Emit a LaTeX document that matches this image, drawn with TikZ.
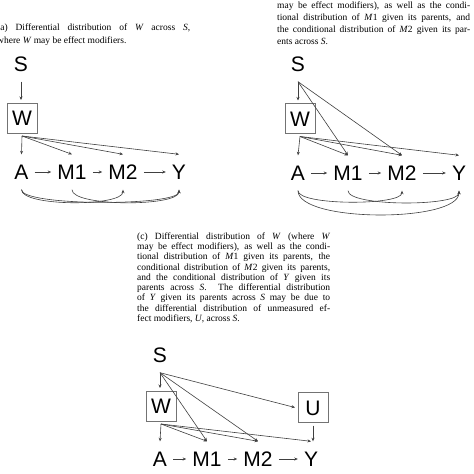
\documentclass[tikz,border=0pt]{standalone}
\usepackage{fontspec}
\setmainfont{Liberation Serif}
\newfontfamily\lbfont{Liberation Sans}
\usetikzlibrary{arrows.meta}
\newlength\capw
\setlength\capw{193pt}
\newcommand\jl[1]{\hbox to \capw{#1}}
\begin{document}
\begin{tikzpicture}[x=1pt,y=-1pt,
  lbl/.style={font=\lbfont\fontsize{21}{21}\selectfont, text height=15pt, text depth=0pt, inner xsep=6pt, inner ysep=10pt},
  boxn/.style={draw=black!55, line width=0.7pt, font=\lbfont\fontsize{21}{21}\selectfont, minimum width=30pt, minimum height=30pt, inner sep=0pt, text height=15pt, text depth=0pt, outer sep=3pt},
  arr/.style={draw=black!75, line width=0.6pt, -{Stealth[length=3.5pt,width=3pt]}},
  capt/.style={align=left, inner sep=0pt, anchor=north west}
]
\useasboundingbox (0,0) rectangle (474,474);
\fill[white] (0,0) rectangle (474,474);

% ---------- (a) ----------
\node[capt, font=\fontsize{9.5}{13.3}\selectfont] (capa) at (-3,23.5)
  {\jl{(a) Differential distribution of \textit{W} across \textit{S},}\\
   where \textit{W} may be effect modifiers.};
\node[lbl] (Sa) at (21,64) {S};
\node[boxn] (Wa) at (22,118) {W};
\node[lbl] (Aa) at (21.5,172) {A};
\node[lbl] (M1a) at (72,172) {M1};
\node[lbl] (M2a) at (123,172) {M2};
\node[lbl] (Ya) at (179,172) {Y};
\draw[arr] (Sa.south) -- (Sa.south |- Wa.north);
\draw[arr] (Wa.south) -- (Aa.north);
\draw[arr] (Wa.south) -- (M1a.north);
\draw[arr] (Wa.south) -- (M2a.north);
\draw[arr] (Wa.south) -- (Ya.north);
\draw[arr] (Aa) -- (M1a);
\draw[arr] (M1a) -- (M2a);
\draw[arr] (M2a) -- (Ya);
\draw[arr] (Aa.south) to[out=-90,in=-90,looseness=0.43] (M2a.south);
\draw[arr] (M1a.south) to[out=-90,in=-90,looseness=0.41] (Ya.south);
\draw[arr] (Aa.south) to[out=-90,in=-90,looseness=0.27] (Ya.south);

% ---------- (b) ----------
\node[capt, font=\fontsize{9.5}{12.2}\selectfont] (capb) at (277,1.5)
  {\jl{may be effect modifiers), as well as the condi-}\\
   \jl{tional distribution of \textit{M}1 given its parents, and}\\
   \jl{the conditional distribution of \textit{M}2 given its par-}\\
   ents across \textit{S}.};
\node[lbl] (Sb) at (298,64) {S};
\node[boxn] (Wb) at (300,118.5) {W};
\node[lbl] (Ab) at (298,173) {A};
\node[lbl] (M1b) at (348,173) {M1};
\node[lbl] (M2b) at (402,173) {M2};
\node[lbl] (Yb) at (459,173) {Y};
\draw[arr] (Sb.south) -- (Sb.south |- Wb.north);
\draw[arr] (Sb.south) -- (M1b.north);
\draw[arr] (Sb.south) -- (M2b.north);
\draw[arr] (Wb.south) -- (Ab.north);
\draw[arr] (Wb.south) -- (M1b.north);
\draw[arr] (Wb.south) -- (M2b.north);
\draw[arr] (Wb.south) -- (Yb.north);
\draw[arr] (Ab) -- (M1b);
\draw[arr] (M1b) -- (M2b);
\draw[arr] (M2b) -- (Yb);
\draw[arr] (Ab.south) to[out=-90,in=-90,looseness=0.37] (M2b.south);
\draw[arr] (M1b.south) to[out=-90,in=-90,looseness=0.37] (Yb.south);
\draw[arr] (Ab.south) to[out=-90,in=-90,looseness=0.51] (Yb.south);

% ---------- (c) ----------
\node[capt, font=\fontsize{9.5}{10.25}\selectfont] (capc) at (137,232.5)
  {\jl{(c) Differential distribution of \textit{W} (where \textit{W}}\\
   \jl{may be effect modifiers), as well as the condi-}\\
   \jl{tional distribution of \textit{M}1 given its parents, the}\\
   \jl{conditional distribution of \textit{M}2 given its parents,}\\
   \jl{and the conditional distribution of \textit{Y} given its}\\
   \jl{parents across \textit{S}.\ \ The differential distribution}\\
   \jl{of \textit{Y} given its parents across \textit{S} may be due to}\\
   \jl{the differential distribution of unmeasured ef-}\\
   fect modifiers, \textit{U}, across \textit{S}.};
\node[lbl] (Sc) at (160,355) {S};
\node[boxn] (Wc) at (161,406) {W};
\node[boxn] (Uc) at (313,407.5) {U};
\node[lbl] (Ac) at (160,459) {A};
\node[lbl] (M1c) at (207,459) {M1};
\node[lbl] (M2c) at (258,459) {M2};
\node[lbl] (Yc) at (311,459) {Y};
\draw[arr] (Sc.south) -- (Sc.south |- Wc.north);
\draw[arr] (Sc.south) -- (M1c.north);
\draw[arr] (Sc.south) -- (M2c.north);
\draw[arr] (Sc.south) -- (Uc.west);
\draw[arr] (Wc.south) -- (Ac.north);
\draw[arr] (Wc.south) -- (M1c.north);
\draw[arr] (Wc.south) -- (M2c.north);
\draw[arr] (Wc.south) -- (Yc.north);
\draw[arr] (Uc.south) -- (Uc.south |- Yc.north);
\draw[arr] (Ac) -- (M1c);
\draw[arr] (M1c) -- (M2c);
\draw[arr] (M2c) -- (Yc);
\end{tikzpicture}
\end{document}
